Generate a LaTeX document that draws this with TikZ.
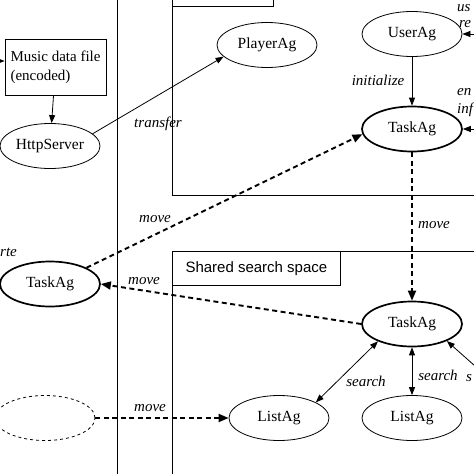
\documentclass[tikz,border=0pt]{standalone}
\usepackage{fontspec}
\setmainfont{Liberation Serif}
\setsansfont{Liberation Sans}
\usetikzlibrary{arrows.meta,shapes.geometric}
\begin{document}
\begin{tikzpicture}[x=1pt,y=-1pt,
  thinline/.style={line width=0.8pt},
  ag/.style={ellipse,draw,line width=0.8pt,minimum width=100pt,minimum height=45pt,inner sep=0pt,font=\fontsize{15.5}{15.5}\selectfont},
  agthick/.style={ag,line width=1.7pt},
  lbl/.style={font=\fontsize{15}{15}\selectfont\itshape,inner sep=0pt},
  arr/.style={-{Triangle[length=8pt,width=6pt]},line width=0.8pt},
  biarr/.style={{Triangle[length=8pt,width=6pt]}-{Triangle[length=8pt,width=6pt]},line width=0.8pt},
  darr/.style={-{Triangle[length=10pt,width=8pt]},line width=1.9pt,dash pattern=on 5pt off 3.5pt},
  filebox/.style={draw,line width=0.8pt,rectangle,minimum width=101pt,minimum height=56pt,align=left,inner xsep=5pt,font=\fontsize{15}{19}\selectfont},
  spacebox/.style={draw,line width=0.8pt,rectangle,minimum width=168pt,minimum height=34pt,inner sep=0pt,font=\sffamily\fontsize{15}{15}\selectfont}
]
\useasboundingbox (0,0) rectangle (474,474);
\clip (0,0) rectangle (474,474);

% frames
\draw[thinline] (117,-5) -- (117,480);
\draw[thinline] (172,-5) -- (172,195) -- (480,195);
\draw[thinline] (172,-20) rectangle (273,6);
\draw[thinline] (172,480) -- (172,251) -- (480,251);
\node[spacebox,anchor=north west] (space) at (172,251) {Shared search space};

% nodes
\node[filebox] (music) at (55.5,67) {Music data file\\(encoded)};
\node[ag] (http) at (50,146) {HttpServer};
\node[ag] (player) at (267,45) {PlayerAg};
\node[ag] (user) at (412,34) {UserAg};
\node[agthick] (task1) at (412,129) {TaskAg};
\node[agthick] (task0) at (50,284) {TaskAg};
\node[agthick] (task2) at (412,324) {TaskAg};
\node[ag] (list1) at (279,418) {ListAg};
\node[ag] (list2) at (412,418) {ListAg};
\node[ag,dashed] (ghost) at (45,418) {};

\coordinate (lin) at (-20,61);
\coordinate (rin1) at (490,34);
\coordinate (rin2) at (490,129);
\coordinate (rin3) at (484,374);

% connectors
\draw[arr] (lin) -- (lin -| music.west);
\draw[arr] (rin1) -- (user.east);
\draw[arr] (rin2) -- (task1.east);
\draw[arr] (rin3) -- (task2.334);
\draw[arr] (music) -- (http);
\draw[arr] (http.16) -- (player.195);
\draw[arr] (user) -- (task1);
\draw[darr] (task0.24) -- (task1.186);
\draw[darr] (task2.west) -- (task0.east);
\draw[darr] (task1) -- (task2);
\draw[darr] (ghost.east) -- (list1.west);
\draw[biarr] (task2.207) -- (list1.23);
\draw[biarr] (task2) -- (list2);

% labels
\node[lbl] (ltransfer) at (158,124) {transfer};
\node[lbl] (linit) at (378,80) {initialize};
\node[lbl] (lmove1) at (155,219) {move};
\node[lbl] (lmove2) at (144,281) {move};
\node[lbl] (lmove3) at (434,225) {move};
\node[lbl] (lmove4) at (150,408) {move};
\node[lbl] (lsearch1) at (366,381) {search};
\node[lbl] (lsearch2) at (438,375) {search};
\node[lbl,anchor=west] (fus) at (457,8) {us};
\node[lbl,anchor=west] (fre) at (459,24) {re};
\node[lbl,anchor=west] (fen) at (457,92) {en};
\node[lbl,anchor=west] (finf) at (457,110) {inf};
\node[lbl,anchor=west] (frte) at (0,252) {rte};
\node[lbl,anchor=west] (fs) at (466,378) {s};
\end{tikzpicture}
\end{document}
